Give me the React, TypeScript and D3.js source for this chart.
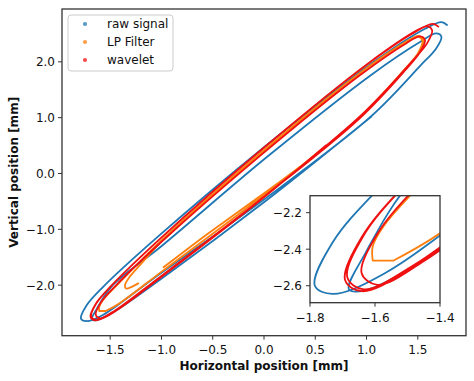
import React from "react";
import * as d3 from "d3";

type P = [number, number];

// ---- data ----
const seriesNames = ["raw signal", "LP Filter", "wavelet"];
const seriesColors = ["#1f77b4", "#ff7f0e", "#f01010"];

const rawSignal: P[] = [
  [1.785, 2.66], [1.731, 2.71], [1.571, 2.593], [1.071, 2.0], [0.0, 0.47],
  [-1.071, -1.19], [-1.571, -2.035], [-1.731, -2.365], [-1.785, -2.6],
  [-1.731, -2.645], [-1.571, -2.533], [-1.071, -1.87], [0.012, -0.45],
  [1.048, 1.03], [1.525, 1.932], [1.679, 2.24], [1.73, 2.45],
  [1.679, 2.508], [1.525, 2.36], [1.048, 1.77], [0.025, 0.29],
  [-0.998, -1.298], [-1.475, -2.0], [-1.629, -2.42], [-1.68, -2.62],
  [-1.629, -2.625], [-1.475, -2.49], [-0.998, -1.88], [0.025, -0.48],
  [1.048, 1.02],
];

const lpFilter: P[] = [
  [-0.98, -1.68], [-0.6, -1.15], [-0.23, -0.66], [0.35, 0.12],
  [0.92, 0.98], [1.364, 1.84], [1.507, 2.168], [1.555, 2.39],
  [1.507, 2.466], [1.364, 2.336], [0.92, 1.78], [-0.033, 0.37],
  [-0.985, -1.17], [-1.43, -1.99], [-1.572, -2.27], [-1.607, -2.385],
  [-1.607, -2.463], [-1.607, -2.463], [-1.544, -2.463], [-1.544, -2.463], [-1.4, -2.313],
  [-0.985, -1.74], [-0.033, -0.43], [0.91, 0.97], [1.355, 1.83],
  [1.5, 2.15], [1.545, 2.37],
  [1.5, 2.45], [1.355, 2.32], [0.91, 1.76], [-0.04, 0.34],
  [-0.98, -1.18], [-1.18, -1.58], [-1.31, -1.85], [-1.356, -2.0],
  [-1.345, -2.06], [-1.29, -2.03], [-1.226, -1.968],
];

const wavelet: P[] = [
  [1.7, 2.63], [1.649, 2.68], [1.496, 2.567], [1.022, 1.98], [0.004, 0.47],
  [-1.014, -1.17], [-1.488, -2.008], [-1.641, -2.335], [-1.692, -2.569],
  [-1.641, -2.63], [-1.488, -2.506], [-1.014, -1.86], [-0.01, -0.43],
  [0.975, 1.09], [1.44, 2.0], [1.59, 2.33], [1.64, 2.56],
  [1.59, 2.636], [1.44, 2.497], [0.975, 1.91], [-0.023, 0.43],
  [-1.02, -1.181], [-1.485, -2.004], [-1.635, -2.325], [-1.685, -2.555],
  [-1.635, -2.62], [-1.485, -2.492], [-1.02, -1.86], [-0.03, -0.46],
  [0.928, 0.98], [1.377, 1.85], [1.522, 2.175], [1.57, 2.39],
  [1.522, 2.457], [1.377, 2.321], [0.928, 1.75], [-0.036, 0.32],
  [-0.999, -1.223], [-1.448, -2.011], [-1.593, -2.317], [-1.641, -2.532],
  [-1.593, -2.595], [-1.448, -2.463], [-0.999, -1.85], [-0.036, -0.48],
  [0.6, 0.5],
];

const mainXTicks = [-1.5, -1.0, -0.5, 0.0, 0.5, 1.0, 1.5];
const mainYTicks = [-2.0, -1.0, 0.0, 1.0, 2.0];
const insetXTicks = [-1.8, -1.6, -1.4];
const insetYTicks = [-2.6, -2.4, -2.2];

const xLabel = "Horizontal position [mm]";
const yLabel = "Vertical position [mm]";

export default function App() {
  const W = 474, H = 381;
  const font = "DejaVu Sans";
  const fs = 12;
  const spine = "#333";

  const x = d3.scaleLinear().domain([-1.97, 1.97]).range([62, 466]);
  const y = d3.scaleLinear().domain([-2.905, 2.946]).range([335.7, 9]);
  const ix = d3.scaleLinear().domain([-1.8, -1.4]).range([310, 440]);
  const iy = d3.scaleLinear().domain([-2.693, -2.107]).range([302.7, 195.7]);
  const fmt = d3.format(".1f");

  const series = [rawSignal, lpFilter, wavelet];
  const mkLine = (sx: any, sy: any) =>
    d3.line<P>().x((d) => sx(d[0])).y((d) => sy(d[1])).curve(d3.curveCatmullRom.alpha(0.5));
  const mainLine = mkLine(x, y);
  const insetLine = mkLine(ix, iy);

  const [x0, x1] = x.range();
  const [y0, y1] = y.range();
  const [ix0, ix1] = ix.range();
  const [iy0, iy1] = iy.range();

  return (
    <svg width={W} height={H} style={{ position: "absolute", left: 0, top: 0, background: "#fff" }}
      fontFamily={font}>
      <defs>
        <clipPath id="mainClip"><rect x={x0} y={y1} width={x1 - x0} height={y0 - y1} /></clipPath>
        <clipPath id="insetClip"><rect x={ix0} y={iy1} width={ix1 - ix0} height={iy0 - iy1} /></clipPath>
      </defs>
      <rect x={0} y={0} width={W} height={H} fill="#fff" />

      <g clipPath="url(#mainClip)">
        {series.map((s, i) => (
          <path key={i} d={mainLine(s) || ""} fill="none" stroke={seriesColors[i]} strokeWidth={1.8}
            strokeLinejoin="round" strokeLinecap="round" />
        ))}
      </g>
      <rect x={x0} y={y1} width={x1 - x0} height={y0 - y1} fill="none" stroke={spine} strokeWidth={1.3} />

      {mainXTicks.map((t) => (
        <g key={"mx" + t}>
          <line x1={x(t)} x2={x(t)} y1={y0} y2={y0 + 4} stroke={spine} strokeWidth={1} />
          <text x={x(t)} y={354} fontSize={fs} textAnchor="middle" fill="#111">{fmt(t)}</text>
        </g>
      ))}
      {mainYTicks.map((t) => (
        <g key={"my" + t}>
          <line x1={x0 - 4} x2={x0} y1={y(t)} y2={y(t)} stroke={spine} strokeWidth={1} />
          <text x={55} y={y(t) + 4.4} fontSize={fs} textAnchor="end" fill="#111">{fmt(t)}</text>
        </g>
      ))}
      <text x={(x0 + x1) / 2} y={370} fontSize={fs} fontWeight="bold" textAnchor="middle" fill="#111">{xLabel}</text>
      <text transform={`translate(18,${(y0 + y1) / 2}) rotate(-90)`} fontSize={fs} fontWeight="bold"
        textAnchor="middle" fill="#111">{yLabel}</text>

      {/* legend */}
      <rect x={68} y={15} width={105} height={56} rx={3} fill="#fff" fillOpacity={0.8} stroke="#cccccc" strokeWidth={1} />
      {seriesNames.map((n, i) => (
        <g key={n}>
          <circle cx={85} cy={24 + i * 18} r={2.1} fill={seriesColors[i]} fillOpacity={0.75} />
          <text x={107} y={24 + i * 18 + 4.4} fontSize={fs} fill="#111">{n}</text>
        </g>
      ))}

      {/* inset */}
      <rect x={ix0} y={iy1} width={ix1 - ix0} height={iy0 - iy1} fill="#fff" />
      <g clipPath="url(#insetClip)">
        {series.map((s, i) => (
          <path key={i} d={insetLine(s) || ""} fill="none" stroke={seriesColors[i]} strokeWidth={1.8}
            strokeLinejoin="round" strokeLinecap="round" />
        ))}
      </g>
      <rect x={ix0} y={iy1} width={ix1 - ix0} height={iy0 - iy1} fill="none" stroke={spine} strokeWidth={1.3} />
      {insetXTicks.map((t) => (
        <g key={"ix" + t}>
          <line x1={ix(t)} x2={ix(t)} y1={iy0} y2={iy0 + 4} stroke={spine} strokeWidth={1} />
          <text x={ix(t)} y={321.7} fontSize={fs} textAnchor="middle" fill="#111">{fmt(t)}</text>
        </g>
      ))}
      {insetYTicks.map((t) => (
        <g key={"iy" + t}>
          <line x1={ix0 - 4} x2={ix0} y1={iy(t)} y2={iy(t)} stroke={spine} strokeWidth={1} />
          <text x={302} y={iy(t) + 4.4} fontSize={fs} textAnchor="end" fill="#111">{fmt(t)}</text>
        </g>
      ))}
    </svg>
  );
}
